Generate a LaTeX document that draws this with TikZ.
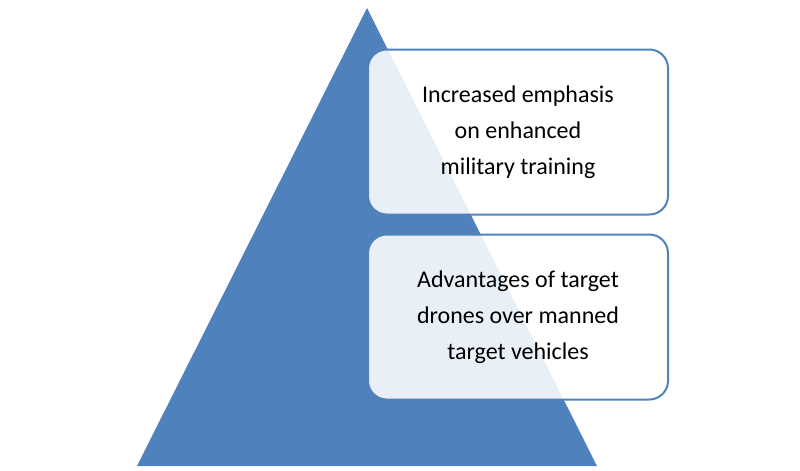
\documentclass[tikz,border=0pt]{standalone}
\usepackage{fontspec}
\setmainfont{Carlito}
\definecolor{pyrblue}{RGB}{79,129,189}
\begin{document}
\begin{tikzpicture}[x=0.75pt,y=0.75pt,yscale=-1,xscale=1]
\tikzset{
  textbox/.style={draw=pyrblue, line width=1.5pt, rounded corners=14pt, fill=white, fill opacity=0.88, text opacity=1,
    minimum width=300*0.75pt, minimum height=165*0.75pt, align=center, font=\fontsize{18}{27}\selectfont, inner sep=2pt}
}
\useasboundingbox (0,0) rectangle (800,471);

% Triangle
\fill [pyrblue] (367,8) coordinate (apex) -- (597,466) coordinate (br) -- (137,466) coordinate (bl) -- cycle;

% Text Node
\node [textbox] (training) at (518,132) {Increased emphasis\\on enhanced\\military training};
% Text Node
\node [textbox] (drones) at (518,317) {Advantages of target\\drones over manned\\target vehicles};

\end{tikzpicture}
\end{document}
